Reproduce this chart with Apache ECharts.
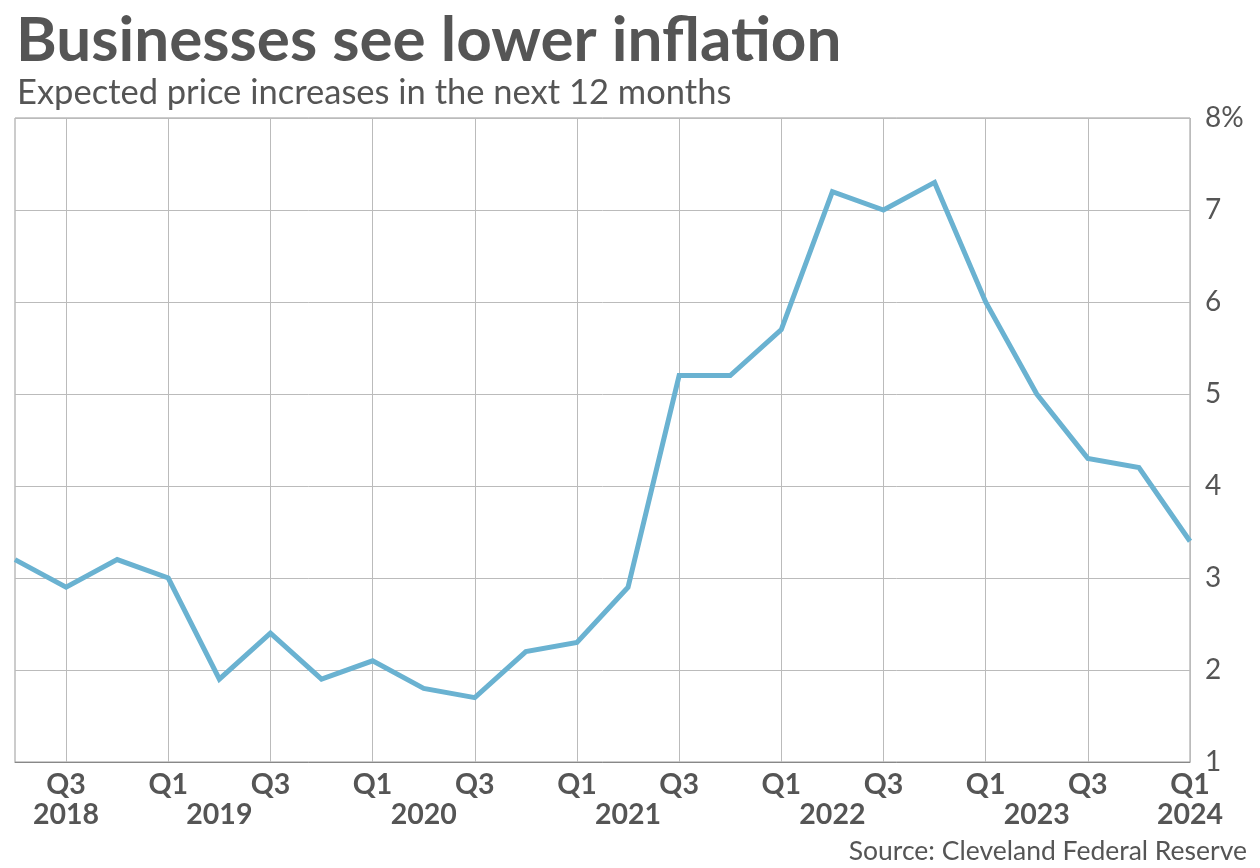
<!DOCTYPE html>
<html>
<head>
<meta charset="utf-8">
<script src="https://cdn.jsdelivr.net/npm/echarts@6/dist/echarts.min.js"></script>
<style>
  html, body { margin: 0; padding: 0; background: #fff; }
  #chart { width: 1260px; height: 868px; }
</style>
</head>
<body>
<div id="chart"></div>
<script>
// quarters from Q2 2018 to Q1 2024
var quarters = ['Q2 2018', 'Q3 2018', 'Q4 2018', 'Q1 2019', 'Q2 2019', 'Q3 2019', 'Q4 2019',
    'Q1 2020', 'Q2 2020', 'Q3 2020', 'Q4 2020', 'Q1 2021', 'Q2 2021', 'Q3 2021', 'Q4 2021',
    'Q1 2022', 'Q2 2022', 'Q3 2022', 'Q4 2022', 'Q1 2023', 'Q2 2023', 'Q3 2023', 'Q4 2023',
    'Q1 2024'];
var expected = [3.2, 2.9, 3.2, 3.0, 1.9, 2.4, 1.9, 2.1, 1.8, 1.7, 2.2, 2.3, 2.9, 5.2, 5.2,
    5.7, 7.2, 7.0, 7.3, 6.0, 5.0, 4.3, 4.2, 3.4];
// which quarter gets a year label under it
var yearLabels = {'Q3 2018': '2018', 'Q2 2019': '2019', 'Q2 2020': '2020', 'Q2 2021': '2021',
    'Q2 2022': '2022', 'Q2 2023': '2023', 'Q1 2024': '2024'};
var yTicks = [1, 2, 3, 4, 5, 6, 7, 8];

var myChart = echarts.init(document.getElementById('chart'));

function isLabelled(q) {
    return q.indexOf('Q1') === 0 || q.indexOf('Q3') === 0;
}

var option = {
    backgroundColor: '#fff',
    animation: false,
    textStyle: { fontFamily: 'Lato' },
    title: [{
        text: 'Businesses see lower inflation',
        left: 11, top: 5,
        textStyle: { fontFamily: 'Lato', fontWeight: 'bold', fontSize: 62, color: '#555' }
    }, {
        text: 'Expected price increases in the next 12 months',
        left: 12, top: 70,
        textStyle: { fontFamily: 'Lato', fontWeight: 'normal', fontSize: 34.5, color: '#555' }
    }, {
        text: 'Source: Cleveland Federal Reserve',
        right: 8, top: 833,
        textStyle: { fontFamily: 'Lato', fontWeight: 'normal', fontSize: 26.5, color: '#555' }
    }],
    grid: {
        left: 15, right: 70, top: 118, bottom: 106,
        show: true, borderColor: '#999', borderWidth: 1
    },
    xAxis: [{
        type: 'category',
        data: quarters,
        boundaryGap: false,
        axisLine: { show: true, lineStyle: { color: '#888', width: 1 } },
        axisTick: { show: false },
        splitLine: {
            show: true,
            interval: function (i, v) { return isLabelled(v); },
            lineStyle: { color: '#bbb', width: 1 }
        },
        axisLabel: {
            interval: function (i, v) { return isLabelled(v); },
            formatter: function (v) { return v.split(' ')[0]; },
            color: '#555', fontSize: 28.5, fontWeight: 'bold', margin: 8
        }
    }, {
        type: 'category',
        data: quarters,
        boundaryGap: false,
        position: 'bottom',
        offset: 30,
        axisLine: { show: false },
        axisTick: { show: false },
        splitLine: { show: false },
        axisLabel: {
            interval: function (i, v) { return yearLabels[v] !== undefined; },
            formatter: function (v) { return yearLabels[v] || ''; },
            color: '#555', fontSize: 28.5, fontWeight: 'bold', margin: 8
        }
    }],
    yAxis: {
        type: 'value',
        position: 'right',
        min: yTicks[0], max: yTicks[yTicks.length - 1], interval: 1,
        axisLine: { show: false },
        axisTick: { show: false },
        splitLine: { lineStyle: { color: '#bbb', width: 1 } },
        axisLabel: {
            formatter: function (v) { return v === 8 ? '8%' : String(v); },
            color: '#555', fontSize: 28, margin: 15
        }
    },
    series: [{
        type: 'line',
        data: expected,
        symbol: 'none',
        lineStyle: { color: '#6ab2d1', width: 5, join: 'miter' }
    }]
};

myChart.setOption(option);
</script>
</body>
</html>
